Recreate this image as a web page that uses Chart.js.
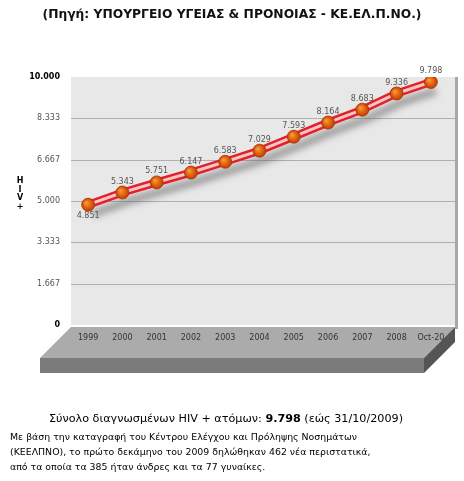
<!DOCTYPE html>
<html>
<head>
<meta charset="utf-8">
<script src="https://cdn.jsdelivr.net/npm/chart.js@4"></script>
<style>
  body { margin: 0; background: #fff; font-family: "DejaVu Sans", Verdana, sans-serif; }
  #wrap { position: relative; width: 464px; height: 481px; }
  canvas { position: absolute; left: 0; top: 0; }
  .title { position: absolute; left: 0; top: 7px; width: 464px; text-align: center; font-weight: bold; font-size: 12.3px; color: #111; }
  .ylab { position: absolute; left: 14px; top: 177px; width: 12px; text-align: center; font-weight: bold; font-size: 8px; line-height: 8.5px; }
  .total { position: absolute; left: 0; top: 412px; width: 452px; text-align: center; font-size: 11.2px; }
  .note { position: absolute; left: 10px; top: 429px; width: 450px; font-size: 9.4px; line-height: 15px; }
</style>
</head>
<body>
<div id="wrap">
  <canvas id="myChart" width="464" height="481"></canvas>
  <div class="title">(Πηγή: ΥΠΟΥΡΓΕΙΟ ΥΓΕΙΑΣ &amp; ΠΡΟΝΟΙΑΣ - ΚΕ.ΕΛ.Π.ΝΟ.)</div>
  <div class="ylab">H<br>I<br>V<br>+</div>
  <div class="total">Σύνολο διαγνωσμένων HIV + ατόμων: <b>9.798</b> (εώς 31/10/2009)</div>
  <div class="note">Με βάση την καταγραφή του Κέντρου Ελέγχου και Πρόληψης Νοσημάτων<br>(ΚΕΕΛΠΝΟ), το πρώτο δεκάμηνο του 2009 δηλώθηκαν 462 νέα περιστατικά,<br>από τα οποία τα 385 ήταν άνδρες και τα 77 γυναίκες.</div>
</div>
<script>
var years = ['1999', '2000', '2001', '2002', '2003', '2004', '2005', '2006', '2007', '2008', 'Oct-20'];
var hivCases = [4851, 5343, 5751, 6147, 6583, 7029, 7593, 8164, 8683, 9336, 9798];
var yTicks = [0, 1667, 3333, 5000, 6667, 8333, 10000];

function fmt(v) {
  return String(Math.round(v)).replace(/\B(?=(\d{3})+(?!\d))/g, '.');
}

// orange ball look for the points, once positions are known
function ballColor(c) {
  var el = c.chart.getDatasetMeta(c.datasetIndex).data[c.dataIndex];
  if (!el || el.x === undefined || isNaN(el.x)) return '#e0600e';
  var g = c.chart.ctx.createRadialGradient(el.x - 2, el.y - 2, 0.5, el.x, el.y, 7);
  g.addColorStop(0, '#f79a3a');
  g.addColorStop(0.55, '#e0600e');
  g.addColorStop(1, '#b8380a');
  return g;
}

// background, grid and the 3d floor
var floor3d = {
  id: 'floor3d',
  beforeDraw: function(chart) {
    var ctx = chart.ctx;
    var a = chart.chartArea;
    var wallRight = a.right + 7;
    var depth = 31, thick = 15, b = a.bottom + 2;
    ctx.save();
    ctx.fillStyle = '#e8e8e8';
    ctx.fillRect(a.left, a.top, wallRight - a.left, a.bottom - a.top);
    ctx.fillStyle = '#a8a8a8';
    ctx.fillRect(wallRight, a.top, 3, a.bottom - a.top + 4);

    ctx.strokeStyle = '#b0b0b0';
    ctx.lineWidth = 1;
    chart.scales.y.ticks.forEach(function(t) {
      if (t.value <= 0 || t.value >= 10000) return;
      var y = Math.round(chart.scales.y.getPixelForValue(t.value)) + 0.5;
      ctx.beginPath();
      ctx.moveTo(a.left, y);
      ctx.lineTo(wallRight, y);
      ctx.stroke();
    });

    // top face
    ctx.fillStyle = '#ababab';
    ctx.beginPath();
    ctx.moveTo(a.left, b);
    ctx.lineTo(wallRight, b);
    ctx.lineTo(wallRight - depth, b + depth);
    ctx.lineTo(a.left - depth, b + depth);
    ctx.closePath();
    ctx.fill();
    // front face
    ctx.fillStyle = '#7b7b7b';
    ctx.fillRect(a.left - depth, b + depth, wallRight - a.left, thick);
    // side face
    ctx.fillStyle = '#555555';
    ctx.beginPath();
    ctx.moveTo(wallRight, b);
    ctx.lineTo(wallRight, b + thick);
    ctx.lineTo(wallRight - depth, b + depth + thick);
    ctx.lineTo(wallRight - depth, b + depth);
    ctx.closePath();
    ctx.fill();
    ctx.restore();
  },
  beforeDatasetDraw: function(chart, args) {
    if (args.index !== 0) return;
    var ctx = chart.ctx;
    ctx.save();
    ctx.shadowColor = 'rgba(90,90,90,0.5)';
    ctx.shadowOffsetX = 5;
    ctx.shadowOffsetY = 9;
    ctx.shadowBlur = 6;
  },
  afterDatasetDraw: function(chart, args) {
    if (args.index !== 0) return;
    chart.ctx.restore();
  },
  afterDatasetsDraw: function(chart) {
    var ctx = chart.ctx;
    var meta = chart.getDatasetMeta(1);
    ctx.save();
    ctx.font = '8px "DejaVu Sans"';
    ctx.fillStyle = '#555';
    ctx.textAlign = 'center';
    ctx.textBaseline = 'middle';
    meta.data.forEach(function(p, i) {
      var dy = i === 0 ? 11 : -11;
      ctx.fillText(fmt(hivCases[i]), p.x, p.y + dy);
    });
    ctx.restore();
  }
};

var ctx = document.getElementById('myChart').getContext('2d');
var myChart = new Chart(ctx, {
  type: 'line',
  data: {
    labels: years,
    datasets: [{
      data: hivCases,
      borderColor: '#e3202a',
      borderWidth: 8,
      pointRadius: 0,
      tension: 0,
      order: 2
    }, {
      data: hivCases,
      borderColor: '#f8c4c4',
      borderWidth: 3,
      pointRadius: 6.5,
      pointBackgroundColor: ballColor,
      pointBorderColor: '#a83206',
      pointBorderWidth: 0.8,
      tension: 0,
      order: 1
    }]
  },
  options: {
    responsive: false,
    animation: false,
    layout: { padding: { top: 77, right: 16, left: 0, bottom: 0 } },
    plugins: { legend: { display: false }, tooltip: { enabled: false } },
    scales: {
      x: {
        offset: true,
        grid: { display: false },
        border: { display: false },
        afterFit: function(s) { s.height = 156; },
        ticks: {
          padding: 0,
          color: '#333',
          font: { family: 'DejaVu Sans', size: 8 },
          maxRotation: 0,
          autoSkip: false
        }
      },
      y: {
        min: 0,
        max: 10000,
        grid: { display: false },
        border: { display: false },
        afterFit: function(s) { s.width = 71; },
        afterBuildTicks: function(s) {
          s.ticks = yTicks.map(function(v) { return { value: v }; });
        },
        ticks: {
          padding: 3,
          color: function(c) { return (c.tick && (c.tick.value === 10000 || c.tick.value === 0)) ? '#000' : '#555'; },
          font: function(c) {
            var b = c.tick && (c.tick.value === 10000 || c.tick.value === 0);
            return { family: 'DejaVu Sans', size: 8, weight: b ? 'bold' : 'normal' };
          },
          callback: function(v) { return fmt(v); }
        }
      }
    }
  },
  plugins: [floor3d]
});
myChart.update();
</script>
</body>
</html>
